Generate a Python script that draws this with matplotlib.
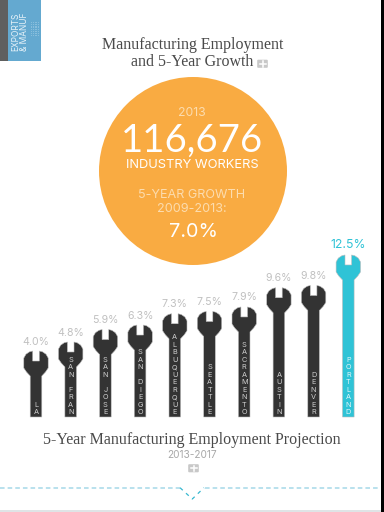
#!/usr/bin/env python3
"""Manufacturing employment infographic: wrench bars, big orange circle."""
import numpy as np
import matplotlib
matplotlib.use("Agg")
import matplotlib.pyplot as plt
from matplotlib.patches import Rectangle, Circle, FancyBboxPatch, Polygon

cities = ["LA", "SAN FRAN", "SAN JOSE", "SAN DIEGO", "ALBUQUERQUE", "SEATTLE",
          "SACRAMENTO", "AUSTIN", "DENVER", "PORTLAND"]
growth = [4.0, 4.8, 5.9, 6.3, 7.3, 7.5, 7.9, 9.6, 9.8, 12.5]

DARK = "#333333"; CYAN = "#2fc3d6"; ORANGE = "#f9ab42"; GREY = "#c0c0c0"; INK = "#4a4a4a"
SANS = "Inter"; SERIF = "Liberation Serif"
W, H = 384, 512

fig = plt.figure(figsize=(W/100, H/100), dpi=100, facecolor="white")

# page furniture, pixel coordinates
ax = fig.add_axes([0, 0, 1, 1])
ax.set_xlim(0, W); ax.set_ylim(H, 0); ax.axis("off")

ax.add_patch(Rectangle((0, 0), 8, 61, fc="#5f5f5f", ec="none"))
ax.add_patch(Rectangle((8, 0), 33, 61, fc="#64a9d0", ec="none"))
ax.add_patch(Rectangle((381, 0), 3, H, fc="black", ec="none", zorder=5))
ax.add_patch(Rectangle((0, 510), 381, 2, fc="#dfe4e6", ec="none"))
ax.text(15.5, 51, "EXPORTS", rotation=90, ha="center", va="bottom", fontsize=6.0,
        color="#e8f3f9", family=SANS)
ax.text(24.5, 51, "& MANUF", rotation=90, ha="center", va="bottom", fontsize=6.0,
        color="#e8f3f9", family=SANS)
dx, dy = np.meshgrid(np.arange(31, 40, 1.8), np.arange(22, 36, 1.8))
ax.scatter(dx.ravel(), dy.ravel(), s=0.4, c="#8fc2df", linewidths=0)

ax.text(193, 45, "Manufacturing Employment", ha="center", va="center", fontsize=11.5,
        color=INK, family=SERIF)
ax.text(192.5, 62.5, "and 5-Year Growth", ha="center", va="center", fontsize=11.5,
        color=INK, family=SERIF)
ax.text(191.5, 439.5, "5-Year Manufacturing Employment Projection", ha="center", va="center",
        fontsize=11.5, color=INK, family=SERIF)
ax.text(192, 455, "2013-2017", ha="center", va="center", fontsize=7.3, color="#a8a8a8",
        family=SANS)

def plus(x, y):
    ax.add_patch(FancyBboxPatch((x+1, y+1), 9, 6.5, boxstyle="round,pad=0.8,rounding_size=1",
                                fc="#c8c8c8", ec="none"))
    ax.plot([x+2.5, x+8.5], [y+4.2, y+4.2], color="white", lw=1.1)
    ax.plot([x+5.5, x+5.5], [y+1.5, y+7], color="white", lw=1.1)

plus(257, 59.5)
plus(188, 464)

ax.plot([0, 180], [487.7, 487.7], color="#a5d9e8", lw=1.1, ls=(0, (3, 2)))
ax.plot([205, 378], [487.7, 487.7], color="#a5d9e8", lw=1.1, ls=(0, (3, 2)))
ax.plot([180, 192.3, 204], [487.7, 499, 487.7], color="#38b8d0", lw=0.9, ls=(0, (3, 3.5)))

# circle
ax.add_patch(Circle((193, 171), 94, fc=ORANGE, ec="none"))
PALE = "#fcdcae"
ax.text(192, 112.5, "2013", ha="center", va="center", fontsize=8.8, color=PALE, family=SANS)
ax.text(192, 140.5, "116,676", ha="center", va="center", fontsize=27.5, color="white",
        family="Lato")
ax.text(192, 165.5, "INDUSTRY WORKERS", ha="center", va="center", fontsize=9.3, color="white",
        family=SANS)
ax.text(192, 194.5, "5-YEAR GROWTH", ha="center", va="center", fontsize=9.1, color=PALE,
        family=SANS)
ax.text(192, 209, "2009-2013:", ha="center", va="center", fontsize=9.1, color=PALE,
        family=SANS)
ax.text(193, 232, "7.0%", ha="center", va="center", fontsize=14.3, color="white", family=SANS)

# wrench bars: x is the city index, y the growth value
PX_X, PX_Y = 34.7, 11.3      # pixels per category / per percent
X0 = 36; BASE_PX = 417; BASE_V = -1.84
ch = fig.add_axes([0, 0, 1, 1])
ch.patch.set_alpha(0); ch.axis("off")
ch.set_xlim(-X0/PX_X, (W-X0)/PX_X)
ch.set_ylim(BASE_V-(H-BASE_PX)/PX_Y, BASE_V+BASE_PX/PX_Y)

def wrench(i, v, color):
    nw = 3.3; nd = 10; sw = 5.8   # px, measured from the top
    # octagon-like head outline, right half from notch to neck
    right = [(nw, 0), (6.5, 0.8), (10, 3.2), (12.2, 7), (12.2, 17), (9.5, 21), (sw, 25)]
    left = [(-x, y) for x, y in right[::-1]]
    pts = [(-sw, None)] + left + [(-nw, nd), (nw, nd)] + right + [(sw, None)]
    xy = []
    for x, y in pts:
        yy = BASE_V if y is None else v-y/PX_Y
        xy.append((i+x/PX_X, yy))
    ch.add_patch(Polygon(xy, closed=True, fc=color, ec="#bdbdbd", lw=0.4, zorder=2))

for i, (c, g) in enumerate(zip(cities, growth)):
    hot = c == "PORTLAND"
    wrench(i, g, CYAN if hot else DARK)
    ch.annotate(f"{g}%", (i, g), xytext=(0, 7.2 if hot else 6.8), textcoords="offset points",
                ha="center", va="center", fontsize=8.8 if hot else 7.6,
                color=CYAN if hot else GREY, family=SANS)
    letters = c[::-1]
    for k, ch_ in enumerate(letters):
        ch.annotate(ch_, (i, BASE_V), xytext=(0, (4.5+k*7.55)*0.72), textcoords="offset points",
                    ha="center", va="center", fontsize=5.3,
                    color="#e2f6f9" if hot else "#cfcfcf", family=SANS, zorder=3)

fig.savefig("out.png", dpi=100, facecolor="white")
